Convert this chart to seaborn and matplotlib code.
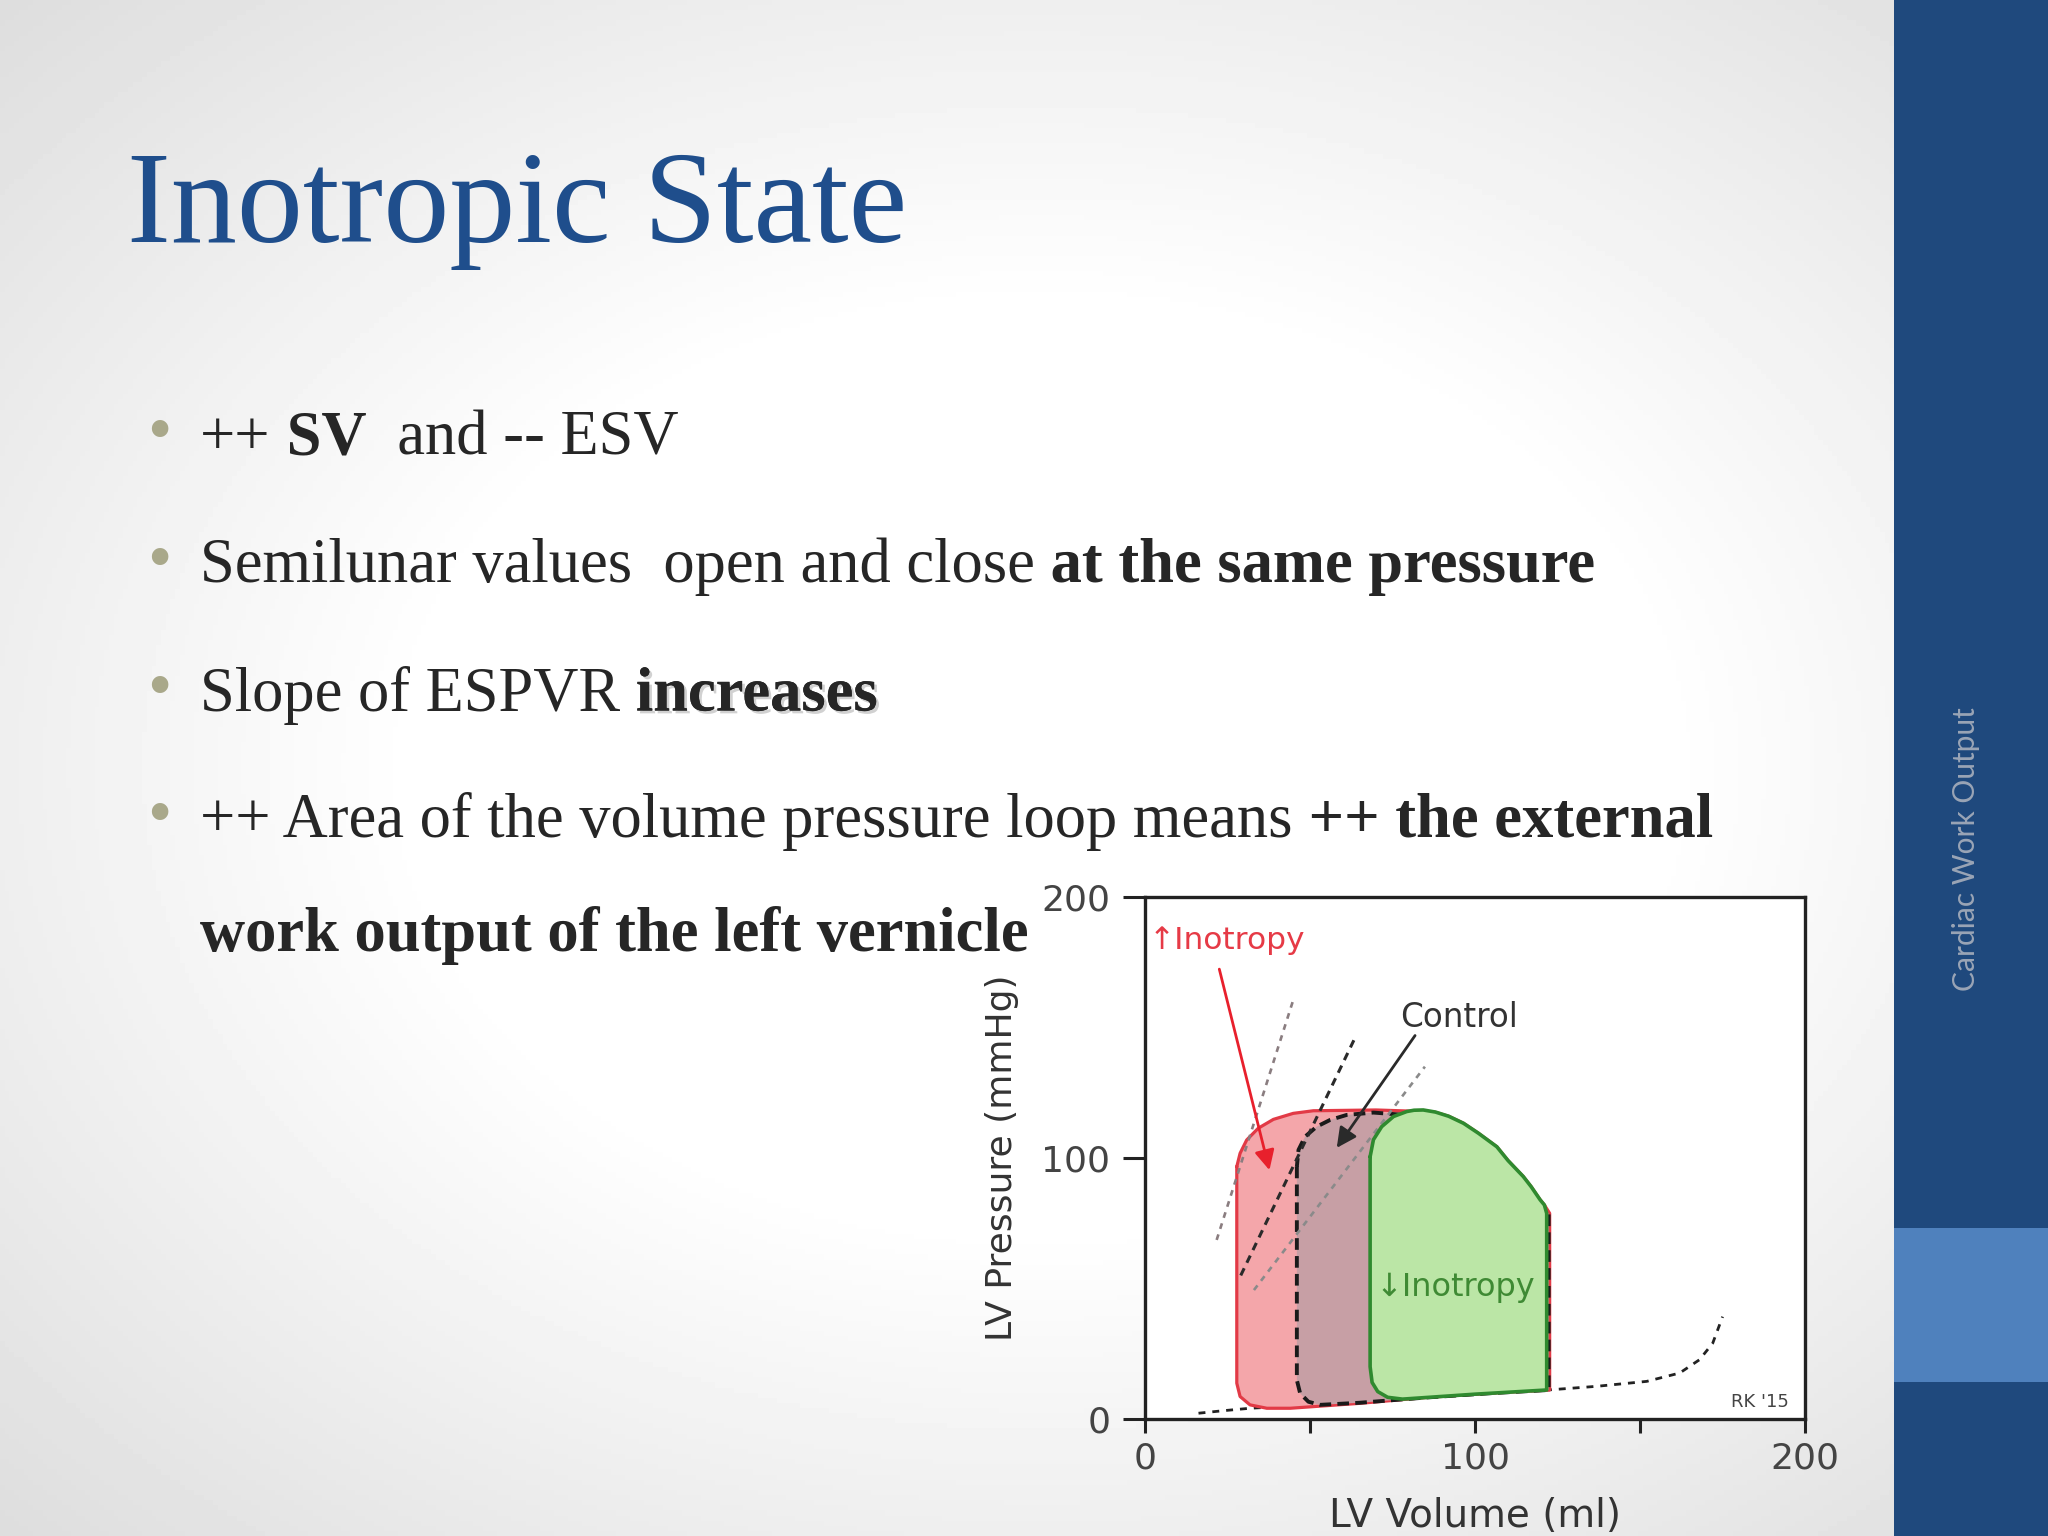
import matplotlib
matplotlib.use("Agg")
import matplotlib.pyplot as plt
import matplotlib.patheffects as pe
from matplotlib.patches import Rectangle
import numpy as np
import pandas as pd
import seaborn as sns

# ---- slide text ----
title = "Inotropic State"
side_label = "Cardiac Work Output"
bullet_lines = [
    [("++", "normal"), (" SV", "bold"), ("  and -- ESV", "normal")],
    [("Semilunar values  open and close", "normal"), (" at the same pressure", "bold")],
    [("Slope of ESPVR", "normal"), (" increases", "shadow")],
    [("++ Area of the volume pressure loop means", "normal"), (" ++ the external", "bold")],
    [("work output of the left vernicle", "bold")],
]
has_bullet = [True, True, True, True, False]

# ---- PV loop data (LV volume ml, LV pressure mmHg) ----
inc_vol = [27.8, 27.8, 28.8, 31.8, 36.9, 44.0, 65.2, 85.0, 105.0, 122.6, 122.6, 121.0, 119.7, 117.0,
           114.6, 110.0, 106.6, 101.0, 96.5, 92.0, 88.0, 84.6, 70.0, 51.0, 44.9, 38.9, 34.3, 30.8,
           28.8, 27.8]
inc_p = [96.7, 13.7, 8.6, 5.4, 4.1, 4.1, 6.0, 8.2, 9.9, 11.1, 78.8, 82.0, 84.0, 89.0,
         92.9, 99.0, 104.3, 109.5, 113.3, 116.0, 117.5, 117.8, 118.4, 118.1, 117.1, 114.8, 111.4, 106.9,
         101.8, 96.7]

ctl_vol = [46.0, 46.0, 47.0, 49.5, 53.0, 65.0, 85.0, 105.0, 122.3, 122.3, 119.5, 114.0, 106.0,
           96.0, 84.0, 69.2, 61.1, 56.1, 52.0, 48.5, 46.5, 46.0]
ctl_p = [96.7, 14.9, 9.8, 6.6, 5.4, 6.2, 8.2, 9.9, 11.1, 78.8, 83.0, 91.0, 101.5,
         110.5, 116.0, 117.4, 116.5, 114.6, 112.0, 108.2, 103.1, 96.7]

dec_vol = [68.2, 68.2, 68.8, 70.5, 73.5, 78.0, 100.0, 121.7, 121.7, 121.0, 119.7, 117.0, 114.6,
           110.0, 106.6, 101.0, 96.5, 92.0, 88.0, 84.3, 81.5, 79.3, 75.3, 71.7, 69.2, 68.2]
dec_p = [100.5, 20.0, 14.0, 10.5, 8.3, 7.6, 9.5, 11.1, 78.8, 82.0, 84.0, 89.0, 92.9,
         99.0, 104.3, 109.5, 113.3, 116.0, 117.6, 118.4, 118.3, 117.8, 115.9, 112.0, 107.0, 100.5]

edpvr_vol = [16.2, 24.0, 31.8, 45.0, 65.0, 80.0, 100.0, 122.0, 136.8, 152.0, 162.0, 168.0, 172.0, 175.0]
edpvr_p = [2.2, 3.2, 4.1, 5.0, 6.3, 7.8, 9.5, 11.1, 12.5, 14.4, 17.6, 22.7, 29.0, 39.2]

espvr_inc_vol = [21.7, 44.9]
espvr_inc_p = [68.6, 160.5]
espvr_ctl_vol = [29.0, 63.8]
espvr_ctl_p = [55.0, 146.5]
espvr_dec_vol = [33.0, 84.8]
espvr_dec_p = [49.4, 135.0]

x_ticks = [0, 50, 100, 150, 200]
x_ticklabels = ["0", "", "100", "", "200"]
y_ticks = [0, 100, 200]

sns.set_theme(style="white")
plt.rcParams["font.family"] = ["DejaVu Sans"]

fig = plt.figure(figsize=(20.48, 15.36), dpi=100)
fig.patch.set_facecolor("white")

# slide background with soft grey vignette
bg = fig.add_axes([0, 0, 1, 1])
gx, gy = np.meshgrid(np.linspace(0, 1, 400), np.linspace(1, 0, 300))
r = np.sqrt(((gx - 0.55) / 0.55) ** 2 + ((gy - 0.5) / 0.5) ** 2)
shade = 1 - 0.13 * np.clip((r - 0.6) / 0.8, 0, 1)
bg.imshow(shade, extent=[0, 0.9248, 0, 1], cmap="gray", vmin=0, vmax=1, aspect="auto")
bg.add_patch(Rectangle((0.9248, 0), 0.0752, 1, color="#1f497d", lw=0))
bg.add_patch(Rectangle((0.9248, 0.1003), 0.0752, 0.1002, color="#4f81bd", lw=0))
bg.set_xlim(0, 1)
bg.set_ylim(0, 1)
bg.axis("off")

bg.text(0.960, 0.4473, side_label, rotation=90, ha="center", va="center",
        fontsize=21.5, color="#9aa5b6", family=["Lato", "DejaVu Sans"])

fig.text(0.062, 0.8424, title, fontsize=95, color="#1f4e8c",
         family=["Liberation Serif"], va="baseline", ha="left")

ink = "#262626"
serif = ["Liberation Serif"]
baselines = [0.7041, 0.6208, 0.5374, 0.4551, 0.3809]
for line, y, bul in zip(bullet_lines, baselines, has_bullet):
    if bul:
        fig.text(0.0778, y + 0.0125, "\u2022", fontsize=50, color="#a9a88a",
                 family=serif, ha="center", va="center")
    prev = None
    for s, style in line:
        kw = dict(fontsize=45, color=ink, family=serif, va="baseline", ha="left",
                  fontweight="bold" if style != "normal" else "normal")
        if prev is None:
            t = bg.text(0.0977, y, s, transform=fig.transFigure, **kw)
        else:
            t = bg.annotate(s, xy=(1, y), xycoords=(prev, "figure fraction"), **kw)
        if style == "shadow":
            t.set_path_effects([pe.withSimplePatchShadow(offset=(2, -2), shadow_rgbFace="#999999", alpha=0.45),
                                pe.Normal()])
        prev = t

# ---- PV loop chart ----
ax = fig.add_axes([0.5591, 0.0762, 0.3223, 0.3398])
ax.set_facecolor("white")

sns.lineplot(x=edpvr_vol, y=edpvr_p, sort=False, estimator=None, color="#222222",
             linewidth=2.0, linestyle=(0, (2.5, 2.5)), ax=ax, zorder=1)

ax.fill(inc_vol, inc_p, color="#f4a6aa", zorder=2, lw=0)
sns.lineplot(x=inc_vol, y=inc_p, sort=False, estimator=None, color="#e23a46",
             linewidth=2.3, ax=ax, zorder=2.1)

ax.fill(ctl_vol, ctl_p, color="#c79fa5", zorder=3, lw=0)
sns.lineplot(x=ctl_vol, y=ctl_p, sort=False, estimator=None, color="#1a1a1a",
             linewidth=2.8, linestyle=(0, (3, 1.6)), ax=ax, zorder=3.1)

sns.lineplot(x=espvr_inc_vol, y=espvr_inc_p, sort=False, estimator=None, color="#8a7d80",
             linewidth=1.9, linestyle=(0, (2.2, 2.2)), ax=ax, zorder=4)
sns.lineplot(x=espvr_ctl_vol, y=espvr_ctl_p, sort=False, estimator=None, color="#2a2a2a",
             linewidth=2.2, linestyle=(0, (2.6, 2.0)), ax=ax, zorder=4)
sns.lineplot(x=espvr_dec_vol, y=espvr_dec_p, sort=False, estimator=None, color="#8a8a8a",
             linewidth=1.9, linestyle=(0, (2.2, 2.2)), ax=ax, zorder=4)

ax.fill(dec_vol, dec_p, color="#bbe6a6", zorder=5, lw=0)
sns.lineplot(x=dec_vol, y=dec_p, sort=False, estimator=None, color="#2f8a2f",
             linewidth=2.6, ax=ax, zorder=5.1)

ax.annotate("", xy=(37.9, 94.3), xytext=(22.3, 173.4), zorder=6,
            arrowprops=dict(arrowstyle="-|>", color="#e8202c", lw=2.0, mutation_scale=30))
ax.annotate("", xy=(57.6, 103.0), xytext=(82.3, 147.8), zorder=6,
            arrowprops=dict(arrowstyle="-|>", color="#2a2a2a", lw=2.0, mutation_scale=30))

ax.text(1.2, 183.5, "\u2191Inotropy", color="#e63a46", fontsize=22.5, ha="left", va="center", zorder=7)
ax.text(95.0, 154.0, "Control", color="#333333", fontsize=23.5, ha="center", va="center", zorder=7)
ax.text(69.8, 50.2, "\u2193Inotropy", color="#3f8a34", fontsize=23, ha="left", va="center", zorder=7)
ax.text(195.0, 6.6, "RK '15", color="#444444", fontsize=13, ha="right", va="center", zorder=7)

ax.set_xlim(0, 200)
ax.set_ylim(0, 200)
ax.set_xticks(x_ticks)
ax.set_xticklabels(x_ticklabels)
ax.set_yticks(y_ticks)
ax.tick_params(axis="x", bottom=True, direction="out", length=10, width=2.2, pad=6,
               labelsize=26, labelcolor="#444444", color="#222222")
ax.tick_params(axis="y", left=True, direction="out", length=16, width=2.2, pad=9,
               labelsize=26, labelcolor="#444444", color="#222222")
for sp in ax.spines.values():
    sp.set_visible(True)
    sp.set_color("#222222")
    sp.set_linewidth(2.4)
ax.set_xlabel("LV Volume (ml)", fontsize=28, color="#333333", labelpad=16)
ax.set_ylabel("LV Pressure (mmHg)", fontsize=26, color="#333333", labelpad=16)
ax.grid(False)

fig.savefig("out.png", dpi=100)
